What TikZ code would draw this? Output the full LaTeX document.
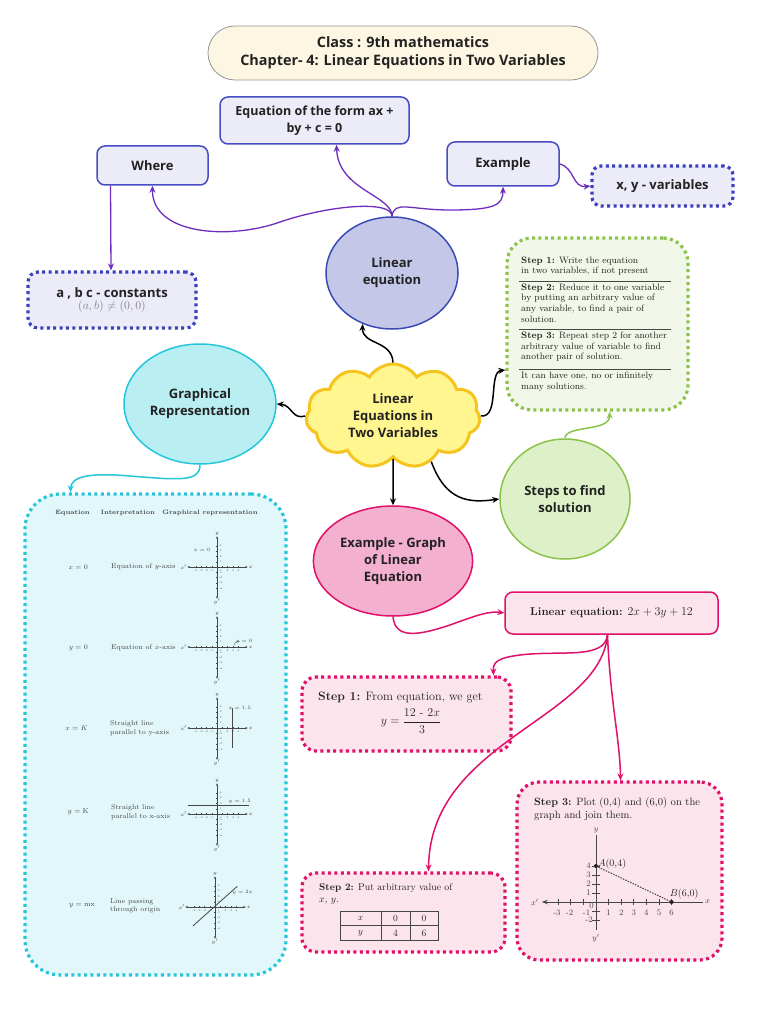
\documentclass[tikz,border=0pt]{standalone}
\usepackage{fontspec}
\usetikzlibrary{shapes.geometric,shapes.symbols,arrows.meta,calc}
\newfontfamily\osans{Open Sans}
\definecolor{pur}{RGB}{111,45,189}
\definecolor{bluebd}{RGB}{72,76,196}
\definecolor{lavfill}{RGB}{236,236,249}
\definecolor{dotblue}{RGB}{58,64,190}
\definecolor{lineqfill}{RGB}{197,199,232}
\definecolor{lineqbd}{RGB}{59,75,181}
\definecolor{cloudfill}{RGB}{255,246,143}
\definecolor{cloudbd}{RGB}{246,196,30}
\definecolor{cyanbd}{RGB}{38,198,218}
\definecolor{cyanfill}{RGB}{185,238,242}
\definecolor{tblfill}{RGB}{226,247,250}
\definecolor{greenbd}{RGB}{139,195,74}
\definecolor{greenfill}{RGB}{242,248,233}
\definecolor{solvefill}{RGB}{221,240,200}
\definecolor{pinkbd}{RGB}{224,16,107}
\definecolor{pinkfill}{RGB}{252,228,236}
\definecolor{exfill}{RGB}{244,176,207}
\definecolor{titlefill}{RGB}{253,246,226}
\definecolor{titlebd}{RGB}{150,150,150}
\definecolor{ink}{RGB}{34,34,34}
\definecolor{gink}{RGB}{70,70,70}
\newcommand\minigraph[3]{%
\begin{scope}[shift={(#1,#2)},x=5.3pt,y=5.3pt]
\draw[miniax] (-5.6,0) -- (5.8,0);
\draw[miniax] (0,5.8) -- (0,-6);
\foreach \i in {-4,-3,-2,-1,1,2,3,4}{\draw[line width=0.4pt,gink] (\i,-0.25)--(\i,0.25) (-0.25,\i)--(0.25,\i);}
\foreach \i in {-4,-3,-2,-1}{\node[tiny] at (\i,-0.7) {\i};}
\foreach \i in {2,3,4}{\node[tiny] at (\i,-0.7) {\i};}
\foreach \i in {4,3,2,1,-1,-2,-3,-4}{\node[tiny] at (0.7,\i) {\i};}
\node[tiny] at (0.7,-0.6) {1};
\node[minilab] at (-6.3,0) {$x'$};
\node[minilab] at (6.4,0) {$x$};
\node[minilab] at (0,6.3) {$y$};
\node[minilab] at (0,-6.5) {$y'$};
#3
\end{scope}}
\begin{document}
\begin{tikzpicture}[x=1pt,y=-1pt,
  sansb/.style={font=\osans\bfseries\fontsize{13}{17}\selectfont, text=ink, align=center},
  bbox/.style={rectangle, rounded corners=8pt, draw=bluebd, line width=1.5pt, fill=lavfill, sansb},
  dotbox/.style={rectangle, draw, line width=3.2pt, dash pattern=on 3pt off 3.4pt},
  arrowtip/.style={-{Stealth[length=7pt,width=6pt]}},
  parrow/.style={draw=pur, line width=1.3pt, arrowtip},
  karrow/.style={draw=black, line width=1.5pt, arrowtip},
  carrow/.style={draw=cyanbd, line width=1.5pt, arrowtip},
  garrow/.style={draw=greenbd, line width=1.5pt, arrowtip},
  pkarrow/.style={draw=pinkbd, line width=1.5pt, arrowtip},
  gtxt/.style={font=\fontsize{9.3}{10.8}\selectfont, text=ink, align=left, inner sep=0pt, anchor=north west},
  ptxt/.style={text=ink, inner sep=0pt},
  tbltxt/.style={font=\fontsize{7}{8.5}\selectfont, text=gink, align=left, inner sep=0pt},
  tblhead/.style={font=\bfseries\fontsize{6.3}{8}\selectfont, text=gink, inner sep=0pt},
  miniax/.style={draw=gink, line width=0.7pt, {Stealth[length=2.6pt,width=2.2pt]}-{Stealth[length=2.6pt,width=2.2pt]}},
  tiny/.style={font=\fontsize{2.6}{3}\selectfont, text=gink, inner sep=0pt},
  minilab/.style={font=\fontsize{5}{6}\selectfont, text=gink, inner sep=0pt},
  axlab/.style={font=\fontsize{8.5}{10}\selectfont, text=gink, inner sep=0pt}
]
\useasboundingbox[fill=white] (0,0) rectangle (768,1024);

% title
\node[rectangle, rounded corners=27pt, minimum width=390pt, minimum height=54pt, draw=titlebd, line width=0.8pt, fill=titlefill, font=\osans\bfseries\fontsize{14.4}{17.5}\selectfont, text=ink, align=center] (title) at (403,53) {Class : 9th mathematics\\Chapter- 4: Linear Equations in Two Variables};

% top blue nodes
\node[bbox, minimum width=189pt, minimum height=47pt, font=\osans\bfseries\fontsize{12.5}{17}\selectfont] (eqform) at (314.5,120.5) {Equation of the form ax +\\by + c = 0};
\node[bbox, minimum width=111pt, minimum height=39pt] (where) at (152.5,165.5) {Where};
\node[bbox, minimum width=112pt, minimum height=44pt] (example) at (503,164) {Example};
\node[dotbox, draw=dotblue, fill=lavfill, rounded corners=9pt, sansb, minimum width=141pt, minimum height=40pt] (xyvar) at (662.5,186) {x, y - variables};
\node[dotbox, draw=dotblue, fill=lavfill, rounded corners=10pt, sansb, minimum width=168pt, minimum height=56pt] (consts) at (112,300) {a , b c - constants\\[-5pt]{\normalfont\color{gray}\fontsize{12.5}{14}\selectfont$(a,b)\neq(0,0)$}};

% ellipses
\node[ellipse, minimum width=132pt, minimum height=112pt, draw=lineqbd, line width=1.5pt, fill=lineqfill, sansb] (lineq) at (392,273) {Linear\\equation};
\node[cloud, cloud puffs=11, cloud puff arc=115, aspect=1.6, minimum width=174pt, minimum height=104pt, draw=cloudbd, line width=3pt, fill=cloudfill, sansb] (cloud) at (393,416) {Linear\\Equations in\\Two Variables};
\node[ellipse, minimum width=152pt, minimum height=120pt, draw=cyanbd, line width=1.5pt, fill=cyanfill, sansb] (graph) at (200,404) {Graphical\\Representation};
\node[ellipse, minimum width=130pt, minimum height=120pt, draw=greenbd, line width=1.5pt, fill=solvefill, sansb] (solve) at (565,499) {Steps to find\\solution};
\node[ellipse, minimum width=152pt, minimum height=110pt, draw=pinkbd, line width=1.5pt, fill=exfill, sansb] (exgraph) at (393,561) {Example - Graph\\of Linear\\Equation};

% green steps box
\node[dotbox, draw=greenbd, fill=greenfill, rounded corners=25pt, minimum width=181pt, minimum height=172pt] (stepsbox) at (597.5,324) {};
\node[gtxt] (g1) at (521,256.5) {\textbf{Step 1:} Write the equation\\in two variables, if not present};
\node[gtxt] (g2) at (521,283.5) {\textbf{Step 2:} Reduce it to one variable\\by putting an arbitrary value of\\any variable, to find a pair of\\solution.};
\node[gtxt] (g3) at (521,331.5) {\textbf{Step 3:} Repeat step 2 for another\\arbitrary value of variable to find\\another pair of solution.};
\node[gtxt] (g4) at (521,371.5) {It can have one, no or infinitely\\many solutions.};
\draw[line width=0.9pt, gink] (519,281.5) -- (671,281.5) (519,329.5) -- (671,329.5) (519,369) -- (671,369);

% table box
\node[dotbox, draw=cyanbd, fill=tblfill, rounded corners=35pt, minimum width=261pt, minimum height=481pt] (tbl) at (155.5,734.5) {};
\node[tblhead] (h1) at (72.5,513) {Equation};
\node[tblhead] (h2) at (128,513) {Interpretation};
\node[tblhead] (h3) at (210,513) {Graphical representation};
\node[tbltxt, anchor=east] (r1e) at (88,567) {$x=0$};
\node[tbltxt, anchor=west] (r1i) at (111,567) {Equation of $y$-axis};
\node[tbltxt, anchor=east] (r2e) at (88,648) {$y=0$};
\node[tbltxt, anchor=west] (r2i) at (111,648) {Equation of $x$-axis};
\node[tbltxt, anchor=east] (r3e) at (88,728) {$x=K$};
\node[tbltxt, anchor=west] (r3i) at (110,728) {Straight line\\parallel to y-axis};
\node[tbltxt, anchor=east] (r4e) at (89,812) {$y=\mathrm{K}$};
\node[tbltxt, anchor=west] (r4i) at (111,812) {Straight line\\parallel to x-axis};
\node[tbltxt, anchor=east] (r5e) at (95,906) {$y=\mathrm{mx}$};
\node[tbltxt, anchor=west] (r5i) at (110,906) {Line passing\\through origin};
\minigraph{217}{567}{\node[tiny] at (-2.8,3.3) {$x=0$};}
\minigraph{217}{647}{\draw[gink,line width=0.3pt] (3.2,0.3) .. controls (3.4,1) and (3.8,1.1) .. (4.3,1.1); \node[tiny] at (5.1,1.1) {$y=0$};}
\minigraph{217}{728}{\draw[gink,line width=0.8pt] (2.9,3.8) -- (2.9,-3.8); \node[tiny] at (4.3,3.8) {$x=1.5$};}
\minigraph{217}{814}{\draw[gink,line width=0.8pt] (-5.4,1.6) -- (6,1.6); \node[tiny] at (4.3,2.3) {$y=1.5$};}
\minigraph{215}{907}{\draw[gink,line width=0.8pt] (-4.2,-3.6) -- (4.2,3.9); \node[tiny] at (5.2,2.8) {$y=2x$};}

% pink boxes
\node[rectangle, rounded corners=8pt, draw=pinkbd, line width=1.5pt, fill=pinkfill, minimum width=213pt, minimum height=42pt, ptxt, font=\fontsize{11.5}{14}\selectfont] (leq) at (611.5,613) {\textbf{Linear equation:} $2x+3y+12$};
\node[dotbox, draw=pinkbd, fill=pinkfill, rounded corners=14pt, minimum width=209pt, minimum height=74pt] (step1) at (406.5,714) {};
\node[ptxt, anchor=west, font=\fontsize{12.2}{14}\selectfont] (s1t) at (318,697) {\textbf{Step 1:} From equation, we get};
\node[ptxt, font=\fontsize{12}{14}\selectfont] (s1e) at (411,721) {$y=\displaystyle\frac{12\mbox{ - }2x}{3}$};
\node[dotbox, draw=pinkbd, fill=pinkfill, rounded corners=14pt, minimum width=203pt, minimum height=79pt] (step2) at (403.5,912.5) {};
\node[ptxt, anchor=west, font=\fontsize{9.8}{12}\selectfont] (s2t) at (319,888.5) {\textbf{Step 2:} Put arbitrary value of};
\node[ptxt, anchor=west, font=\fontsize{9.8}{12}\selectfont] (s2u) at (319,901.5) {$x$, $y$.};
\draw[gink, line width=0.7pt] (340,911) rectangle (438,940) (340,925.5) -- (438,925.5) (381,911) -- (381,940) (410,911) -- (410,940);
\node[ptxt, font=\fontsize{9.5}{11}\selectfont] (t11) at (360.5,918.5) {$x$};
\node[ptxt, font=\fontsize{9.5}{11}\selectfont] (t12) at (395.5,918.5) {0};
\node[ptxt, font=\fontsize{9.5}{11}\selectfont] (t13) at (424,918.5) {0};
\node[ptxt, font=\fontsize{9.5}{11}\selectfont] (t21) at (360.5,933) {$y$};
\node[ptxt, font=\fontsize{9.5}{11}\selectfont] (t22) at (395.5,933) {4};
\node[ptxt, font=\fontsize{9.5}{11}\selectfont] (t23) at (424,933) {6};

\node[dotbox, draw=pinkbd, fill=pinkfill, rounded corners=22pt, minimum width=205pt, minimum height=178pt] (step3) at (619.5,871) {};
\node[ptxt, anchor=west, font=\fontsize{10.6}{13}\selectfont] (s3t) at (534,803) {\textbf{Step 3:} Plot (0,4) and (6,0) on the};
\node[ptxt, anchor=west, font=\fontsize{10.6}{13}\selectfont] (s3u) at (534,816) {graph and join them.};
\begin{scope}[shift={(596,902)},x=12.6pt,y=9pt]
\draw[gink, line width=0.9pt, {Stealth[length=6pt,width=4.5pt]}-] (-4.3,0) -- (8.5,0);
\draw[gink, line width=0.9pt] (0,7.4) -- (0,-3.1);
\foreach \i in {-3,-2,-1,1,2,3,4,5,6}{\draw[gink,line width=0.7pt] (\i,-0.35) -- (\i,0.35);}
\foreach \i in {-2,-1,1,2,3,4}{\draw[gink,line width=0.7pt] (-0.28,\i) -- (0.28,\i);}
\node[axlab] (xm3) at (-3.1,-1.2) {-3};
\node[axlab] (xm2) at (-2.1,-1.2) {-2};
\node[axlab] (xm1) at (-0.75,-1.2) {-1};
\foreach \i in {1,2,3,4,5,6}{\node[axlab] at (\i,-1.2) {\i};}
\foreach \i in {1,2,3,4}{\node[axlab] at (-0.6,\i) {\i};}
\node[axlab] (o) at (-0.35,-0.45) {0};
\node[axlab] (ym2) at (-0.55,-2) {-2};
\node[axlab] (xp) at (-4.85,0) {$x'$};
\node[axlab] (xx) at (8.85,0) {$x$};
\node[axlab] (yy) at (0,7.9) {$y$};
\node[axlab] (yp) at (0,-4) {$y'$};
\draw[gink, line width=1pt, dash pattern=on 1.5pt off 1.2pt] (0,4) -- (6,0);
\fill[ink] (0,4) circle (2pt) (6,0) circle (2pt);
\node[ptxt, anchor=south west, font=\fontsize{10}{12}\selectfont] (Alab) at (0.15,3.65) {$A$(0,4)};
\node[ptxt, anchor=south, font=\fontsize{10}{12}\selectfont] (Blab) at (7,0.35) {$B$(6,0)};
\end{scope}

% purple connectors
\draw[parrow] (lineq.north) .. controls (392,200) and (330,205) .. (280,222) .. controls (230,240) and (152,235) .. (where.south);
\draw[parrow] (lineq.north) .. controls (392,195) and (338,190) .. ([xshift=22pt]eqform.south);
\draw[parrow] (lineq.north) .. controls (394,200) and (410,210) .. (450,210) .. controls (495,210) and (503,205) .. (example.south);
\draw[parrow] ([xshift=-42pt]where.south) -- ([xshift=-1pt]consts.north);
\draw[parrow] (example.east) .. controls (575,168) and (572,188) .. (xyvar.west);

% black connectors
\draw[karrow] (cloud.north) .. controls (392,340) and (362,345) .. (lineq.240);
\draw[karrow] (cloud.west) .. controls (292,420) and (292,405) .. (graph.east);
\draw[karrow] (cloud.east) .. controls (500,418) and (488,372) .. ([yshift=-46pt]stepsbox.west);
\draw[karrow] (cloud.south) -- (exgraph.north);
\draw[karrow] (cloud.310) .. controls (446,502) and (470,503) .. (solve.west);

% cyan, green
\draw[carrow] (graph.south) .. controls (200,482) and (180,480) .. (130,476) .. controls (85,472) and (71,478) .. ([xshift=-85pt]tbl.north);
\draw[garrow] (solve.north) .. controls (565,425) and (610,432) .. ([xshift=12pt]stepsbox.south);

% pink connectors
\draw[pkarrow] (exgraph.south) .. controls (395,640) and (420,635) .. (450,625) .. controls (480,614) and (490,611) .. (leq.west);
\draw[pkarrow] ([xshift=-4pt]leq.south) .. controls (605,660) and (560,650) .. (520,655) .. controls (497,658) and (493,662) .. ([xshift=87pt]step1.north);
\draw[pkarrow] ([xshift=-4pt]leq.south) .. controls (600,720) and (430,740) .. ([xshift=25pt]step2.north);
\draw[pkarrow] ([xshift=-4pt]leq.south) .. controls (610,700) and (620,740) .. ([xshift=1pt]step3.north);
\end{tikzpicture}
\end{document}
